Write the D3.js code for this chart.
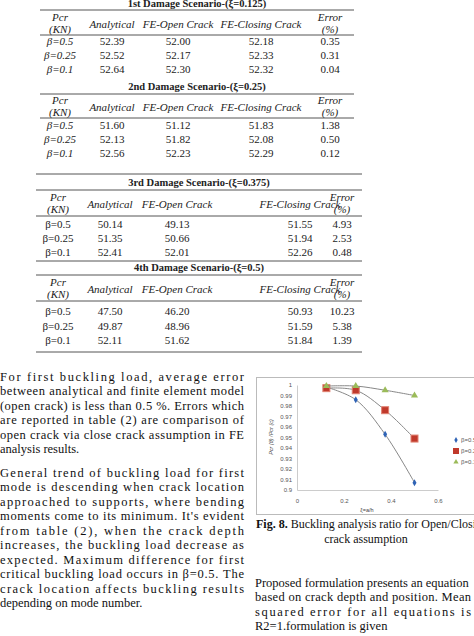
<!DOCTYPE html><html><head><meta charset="utf-8"><script src="https://cdn.jsdelivr.net/npm/d3@7"></script>
<style>body{margin:0;background:#fff}svg{display:block;font-family:"Liberation Serif","DejaVu Serif",serif}</style></head><body><svg id="s" width="474" height="636"></svg>
<script>
const scenarios=["1st Damage Scenario-(ξ=0.125)","2nd Damage Scenario-(ξ=0.25)","3rd Damage Scenario-(ξ=0.375)","4th Damage Scenario-(ξ=0.5)"];
const betas=["β=0.5","β=0.25","β=0.1"];
const analytical=[[52.39,52.52,52.64],[51.60,52.13,52.56],[50.14,51.35,52.41],[47.50,49.87,52.11]];
const feOpen=[[52.00,52.17,52.30],[51.12,51.82,52.23],[49.13,50.66,52.01],[46.20,48.96,51.62]];
const feClosing=[[52.18,52.33,52.32],[51.83,52.08,52.29],[51.55,51.94,52.26],[50.93,51.59,51.84]];
const errors=[["0.35","0.31","0.04"],["1.38","0.50","0.12"],["4.93","2.53","0.48"],["10.23","5.38","1.39"]];
const xi=[0.125,0.25,0.375,0.5];
const ratio05=[0.998,0.986,0.953,0.907];
const ratio025=[0.997,0.995,0.976,0.949];
const ratio01=[0.999,0.999,0.995,0.990];
const seriesNames=["β=0.5","β=0.25","β=0.1"];
const yTicks=[0.9,0.91,0.92,0.93,0.94,0.95,0.96,0.97,0.98,0.99,1];
const xTicks=[0,0.2,0.4,0.6];

const svg=d3.select("#s");
const tl=[
 {title:7,top:10,h1:21,h2:33,mid:35,rows:[45,59,73],bot:null,x:[60,112,178,261,330],l:40,r:354,it:true},
 {title:90,top:94,h1:104,h2:116,mid:118,rows:[129,143,157],bot:null,x:[60,112,178,261,330],l:40,r:354,it:true},
 {title:186,top:190,h1:201,h2:213,mid:216,rows:[228,242,256],bot:261,x:[58,110,177,300,342],l:36,r:362,it:false,top0:174},
 {title:271,top:275,h1:286,h2:298,mid:301,rows:[315,330,344],bot:352,x:[58,110,177,300,342],l:36,r:362,it:false}
];
const fmt=d3.format(".2f");
tl.forEach((t,i)=>{
 const g=svg.append("g").attr("font-size",11).attr("fill","#222");
 const line=y=>g.append("line").attr("x1",t.l).attr("x2",t.r).attr("y1",y).attr("y2",y).attr("stroke","#555").attr("stroke-width",1);
 if(t.top0)line(t.top0);
 line(t.top);line(t.mid);if(t.bot)line(t.bot);
 g.append("text").attr("x",(t.l+t.r)/2).attr("y",t.title).attr("text-anchor","middle").attr("font-weight","bold").attr("font-size",10.5).text(scenarios[i]);
 const it=g.append("g").attr("font-style","italic").attr("text-anchor","middle");
 it.append("text").attr("x",t.x[0]).attr("y",t.h1).text("Pcr");
 it.append("text").attr("x",t.x[0]).attr("y",t.h2).text("(KN)");
 const hy=(t.h1+t.h2)/2+1;
 ["Analytical","FE-Open Crack","FE-Closing Crack"].forEach((h,k)=>it.append("text").attr("x",t.x[k+1]).attr("y",hy).text(h));
 it.append("text").attr("x",t.x[4]).attr("y",t.h1).text("Error");
 it.append("text").attr("x",t.x[4]).attr("y",t.h2).text("(%)");
 t.rows.forEach((y,j)=>{
  const vals=[fmt(analytical[i][j]),fmt(feOpen[i][j]),fmt(feClosing[i][j]),errors[i][j]];
  g.append("text").attr("x",t.x[0]).attr("y",y).attr("text-anchor","middle").attr("font-style",t.it?"italic":"normal").text(betas[j]);
  vals.forEach((v,k)=>g.append("text").attr("x",t.x[k+1]).attr("y",y).attr("text-anchor","middle").text(v));
 });
});
function para(lines,x,w,size){const g=svg.append("g").attr("font-size",size).attr("fill","#111");
 lines.forEach(([y,s,j])=>{const t=g.append("text").attr("x",x).attr("y",y).text(s);if(j)t.attr("textLength",w).attr("lengthAdjust","spacing");});}
para([[381,"For first buckling load, average error",1],[395,"between analytical and finite element model",1],[410,"(open crack) is less than 0.5 %. Errors which",1],[424,"are reported in table (2) are comparison of",1],[439,"open crack via close crack assumption in FE",1],[453,"analysis results.",0],
[477,"General trend of buckling load for first",1],[491,"mode is descending when crack location",1],[506,"approached to supports, where bending",1],[520,"moments come to its minimum. It's evident",1],[535,"from table (2), when the crack depth",1],[549,"increases, the buckling load decrease as",1],[564,"expected. Maximum difference for first",1],[578,"critical buckling load occurs in β=0.5. The",1],[593,"crack location affects buckling results",1],[607,"depending on mode number.",0]],0,244,12.5);
para([[587,"Proposed formulation presents an equation",0],[601,"based on crack depth and position. Mean",1],[616,"squared error for all equations is",1],[630,"R2=1.formulation is given",0]],255,216,12.5);
const cap=svg.append("g").attr("font-size",12).attr("text-anchor","start").attr("fill","#111");
const c1=cap.append("text").attr("x",256).attr("y",528);
c1.append("tspan").attr("font-weight","bold").text("Fig. 8.");c1.append("tspan").text(" Buckling analysis ratio for Open/Closing");
cap.append("text").attr("x",366).attr("y",543).attr("text-anchor","middle").text("crack assumption");
svg.append("rect").attr("x",256.5).attr("y",377.5).attr("width",230).attr("height",137).attr("fill","none").attr("stroke","#bbb");
const x=d3.scaleLinear().domain([0,0.6]).range([297,438]);
const y=d3.scaleLinear().domain([0.9,1]).range([490,385]);
const cg=svg.append("g").attr("font-family","Liberation Sans,Arial,sans-serif");
cg.append("g").attr("transform","translate(0,490)").call(d3.axisBottom(x).tickValues(xTicks).tickSize(0).tickPadding(9).tickFormat(d3.format("")))
 .call(g=>{g.select(".domain").attr("stroke","#ccc");g.selectAll("text").attr("font-size",6).attr("fill","#555");});
cg.append("g").attr("transform","translate(297,0)").call(d3.axisLeft(y).tickValues(yTicks).tickSize(0).tickPadding(5).tickFormat(d=>d===1?"1":d3.format(".2f")(d).replace(/0$/,"")))
 .call(g=>{g.select(".domain").attr("stroke","#ccc");g.selectAll("text").attr("font-size",6).attr("fill","#555");});
cg.append("text").attr("x",367).attr("y",512).attr("text-anchor","middle").attr("font-size",5.5).attr("fill","#444").text("ξ=a/h");
cg.append("text").attr("transform","translate(273,437) rotate(-90)").attr("text-anchor","middle").attr("font-size",5.5).attr("fill","#444").attr("font-style","italic").text("Pcr (θ) /Pcr (c)");
const series=[ratio05,ratio025,ratio01];const cols=["#2f63b5","#c0392b","#9bbb59"];
const ln=d3.line().x((d,i)=>x(xi[i])).y(d=>y(d)).curve(d3.curveCatmullRom);
series.forEach((s,k)=>{
 cg.append("path").attr("d",ln(s)).attr("fill","none").attr("stroke","#888").attr("stroke-width",1);
 s.forEach((v,i)=>{const px=x(xi[i]),py=y(v);
  if(k===0)cg.append("path").attr("d",d3.symbol(d3.symbolDiamond,14)()).attr("transform",`translate(${px},${py})`).attr("fill",cols[0]);
  else if(k===1)cg.append("rect").attr("x",px-3.5).attr("y",py-3.5).attr("width",7).attr("height",7).attr("fill",cols[1]).attr("stroke","#e08070");
  else cg.append("path").attr("d",d3.symbol(d3.symbolTriangle,22)()).attr("transform",`translate(${px},${py})`).attr("fill",cols[2]);
 });
 const ly=440+k*11;
 if(k===0)cg.append("path").attr("d",d3.symbol(d3.symbolDiamond,10)()).attr("transform",`translate(456,${ly})`).attr("fill",cols[0]);
 else if(k===1)cg.append("rect").attr("x",453).attr("y",ly-3).attr("width",6).attr("height",6).attr("fill",cols[1]);
 else cg.append("path").attr("d",d3.symbol(d3.symbolTriangle,12)()).attr("transform",`translate(456,${ly})`).attr("fill",cols[2]);
 cg.append("text").attr("x",461).attr("y",ly+2).attr("font-size",6).attr("fill","#555").text(seriesNames[k]);
});
</script></body></html>
